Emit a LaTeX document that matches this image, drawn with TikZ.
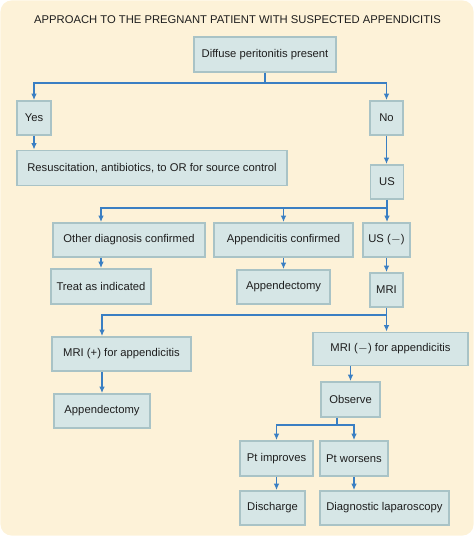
\documentclass[tikz,border=0pt]{standalone}
\usepackage{fontspec}
\setmainfont{Liberation Sans}
\usetikzlibrary{arrows.meta,positioning,calc}
\definecolor{Cream}{HTML}{FDF2D8}
\definecolor{BoxFill}{HTML}{D6E6E6}
\definecolor{BoxLine}{HTML}{A9C3C6}
\definecolor{Arrow}{HTML}{3A7FC3}
\definecolor{Ink}{HTML}{1E1E1E}
\begin{document}
\begin{tikzpicture}[x=0.02cm,y=-0.02cm,
  box/.style={rectangle,draw=BoxLine,fill=BoxFill,line width=1.1pt,inner sep=1pt,text=Ink,font=\fontsize{6.4}{7.6}\selectfont},
  line/.style={draw=Arrow,line width=0.85pt},
  arr/.style={line,-{Latex[length=3.6pt,width=3.2pt]}}
]
\useasboundingbox (0,0) rectangle (474,536);
\fill[Cream,rounded corners=0.22cm] (0.5,0.5) rectangle (473.5,535.5);
\node[text=Ink,font=\fontsize{6.4}{7.6}\selectfont] (title) at (237.5,20) {APPROACH TO THE PREGNANT PATIENT WITH SUSPECTED APPENDICITIS};
\node[box,minimum width=2.84cm,minimum height=0.70cm] (diffuse) at (265,54.5) {Diffuse peritonitis present};
\node[box,minimum width=0.68cm,minimum height=0.68cm] (yes) at (34,118) {Yes};
\node[box,minimum width=0.66cm,minimum height=0.68cm] (no) at (386.5,118) {No};
\node[box,minimum width=5.40cm,minimum height=0.70cm] (resus) at (152,168) {Resuscitation, antibiotics, to OR for source control};
\node[box,minimum width=0.66cm,minimum height=0.68cm] (us) at (387,182) {US};
\node[box,minimum width=3.04cm,minimum height=0.68cm] (other) at (129,240) {Other diagnosis confirmed};
\node[box,minimum width=2.78cm,minimum height=0.68cm] (appconf) at (283.5,240) {Appendicitis confirmed};
\node[box,minimum width=0.94cm,minimum height=0.68cm] (usneg) at (386.5,240) {US ($-$)};
\node[box,minimum width=2.00cm,minimum height=0.70cm] (treat) at (101,286.5) {Treat as indicated};
\node[box,minimum width=1.86cm,minimum height=0.68cm] (appx1) at (283.5,287) {Appendectomy};
\node[box,minimum width=0.66cm,minimum height=0.68cm] (mri) at (386.5,290) {MRI};
\node[box,minimum width=2.78cm,minimum height=0.68cm] (mripos) at (121.5,354) {MRI (+) for appendicitis};
\node[box,minimum width=3.10cm,minimum height=0.66cm] (mrineg) at (390.5,349) {MRI ($-$) for appendicitis};
\node[box,minimum width=1.92cm,minimum height=0.68cm] (appx2) at (102,411) {Appendectomy};
\node[box,minimum width=1.18cm,minimum height=0.70cm] (observe) at (350.5,399.5) {Observe};
\node[box,minimum width=1.46cm,minimum height=0.70cm] (ptimp) at (276.5,458.5) {Pt improves};
\node[box,minimum width=1.36cm,minimum height=0.70cm] (ptwor) at (354,458.5) {Pt worsens};
\node[box,minimum width=1.30cm,minimum height=0.68cm] (discharge) at (272.5,508) {Discharge};
\node[box,minimum width=2.58cm,minimum height=0.68cm] (diaglap) at (384.5,508) {Diagnostic laparoscopy};
\coordinate (j1) at (265,83);
\coordinate (j2) at (387,208);
\coordinate (j3) at (387,315);
\coordinate (j4) at (337,425);
\draw[line] (diffuse) -- (j1);
\draw[line] (us) -- (j2);
\draw[line] (observe.south -| j4) -- (j4);
\foreach \a/\b in {j1/yes,j1/no,j2/appconf,j4/ptimp,j4/ptwor} {
  \draw[arr] (\a) -| (\b.north);
}
\draw[arr] (j2) -| (treat.north |- other.north);
\draw[arr] (j3) -| (appx2.north |- mripos.north);
\foreach \a/\b in {yes/resus,no/us,us/usneg,appconf/appx1,usneg/mri,mri/mrineg,ptimp/discharge,ptwor/diaglap} {
  \draw[arr] (\a.south) -- (\a.south |- \b.north);
}
\foreach \a/\b in {other/treat,mripos/appx2,mrineg/observe} {
  \draw[arr] (\a.south -| \b) -- (\b.north);
}
\end{tikzpicture}
\end{document}
